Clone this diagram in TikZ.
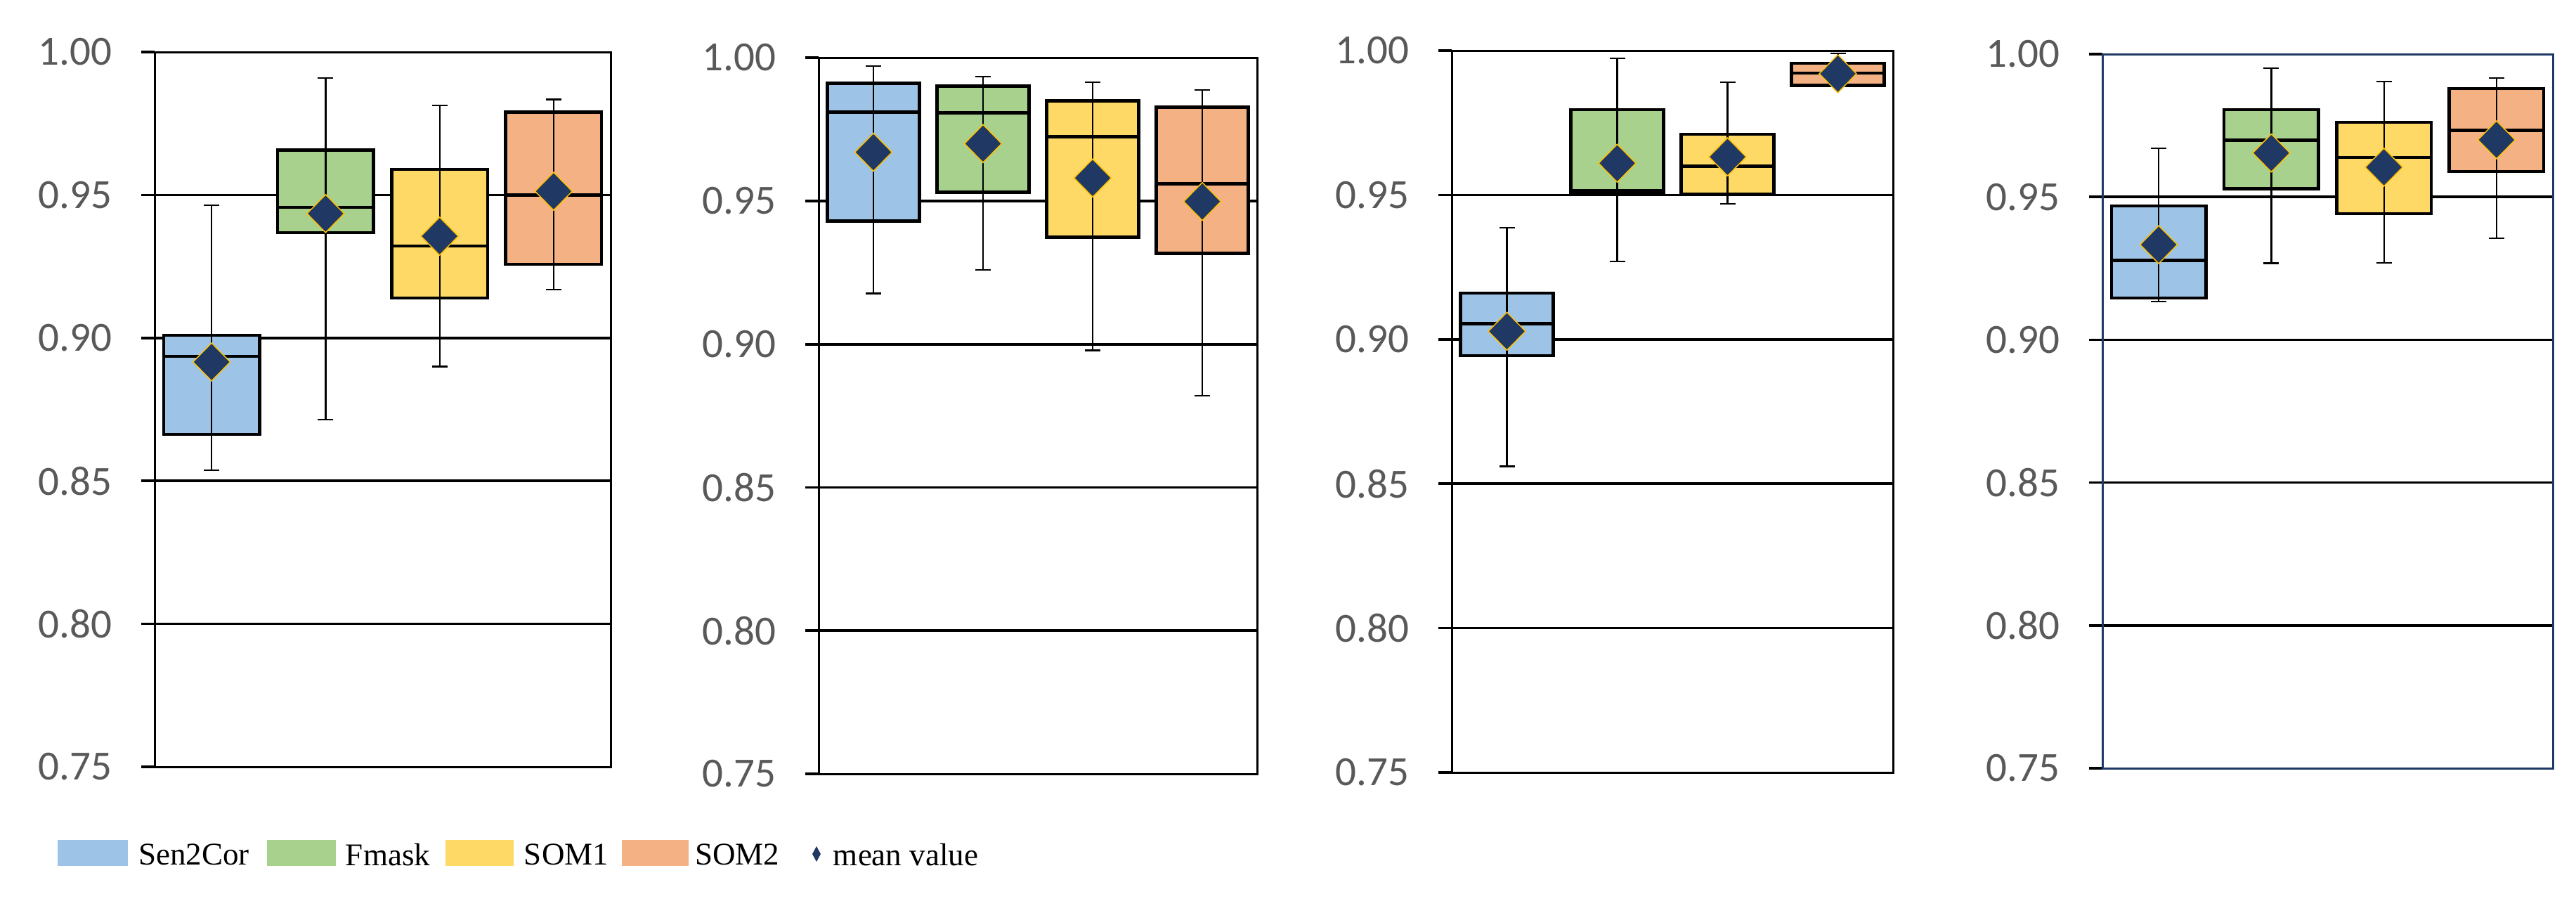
\documentclass[tikz,border=0pt]{standalone}
\usepackage{fontspec}
\setmainfont{Liberation Serif}
\newfontfamily\axfont{Carlito}
\definecolor{cBlue}{HTML}{9DC3E6}
\definecolor{cGreen}{HTML}{A9D18E}
\definecolor{cYellow}{HTML}{FFD966}
\definecolor{cOrange}{HTML}{F4B183}
\definecolor{cNavy}{HTML}{1F3864}
\definecolor{cGold}{HTML}{FFC000}
\definecolor{cLab}{HTML}{595959}
\tikzset{
  whisk/.style={line width=0.45pt, black},
  boxs/.style={line width=0.9pt, black},
  gridl/.style={line width=0.75pt, black},
  frame/.style={line width=0.6pt, black},
  meanmk/.style={fill=cNavy, draw=cGold, line width=0.3pt},
  ylab/.style={anchor=east, font=\axfont\fontsize{11.8}{14}\selectfont, text=cLab, inner sep=0pt},
  leg/.style={anchor=west, font=\fontsize{9}{11}\selectfont, inner sep=0pt}
}
\newcommand\bxp[8]{%
  \pgfmathsetmacro\cx{(#1+0.5)*\W/4}%
  \pgfmathsetmacro\hw{0.42*\W/4}%
  \filldraw[boxs, fill=#8] (\cx-\hw,#5) rectangle (\cx+\hw,#3);
  \draw[whisk] (\cx,#6) -- (\cx,#2);
  \draw[whisk] (\cx-11,#2) -- (\cx+11,#2);
  \draw[whisk] (\cx-11,#6) -- (\cx+11,#6);
  \draw[boxs] (\cx-\hw,#4) -- (\cx+\hw,#4);
  \draw[meanmk] (\cx,#7) +(-5.3pt,0) -- +(0,5.4pt) -- +(5.3pt,0) -- +(0,-5.4pt) -- cycle;
}
\newcommand\axes[1]{%
  \foreach \v/\t in {0.75/0.75,0.80/0.80,0.85/0.85,0.90/0.90,0.95/0.95,1.00/1.00}{
    \draw[gridl] (-19,\v) -- (0,\v);
    \node[ylab] at (-60,\v) {\t};
  }
  \foreach \v in {0.80,0.85,0.90,0.95}{\draw[gridl] (0,\v) -- (\W,\v);}
  \draw[frame,#1] (0,0.75) rectangle (\W,1.00);
}
\begin{document}
\begin{tikzpicture}
\useasboundingbox (0,0) rectangle (733.2pt,-257.6pt);
\fill[white] (0,0) rectangle (733.2pt,-257.6pt);
% panel 1
\begin{scope}[x=0.2pt, y=813.6pt, shift={(44pt,-218.2pt)}, shift={(0,-0.75)}]
  \def\W{649}
  \axes{}
  \bxp{0}{0.9465}{0.9009}{0.8936}{0.8663}{0.8538}{0.8916}{cBlue}
  \bxp{1}{0.9909}{0.9657}{0.9457}{0.9368}{0.8714}{0.9435}{cGreen}
  \bxp{2}{0.9814}{0.9590}{0.9321}{0.9140}{0.8900}{0.9356}{cYellow}
  \bxp{3}{0.9834}{0.9790}{0.9500}{0.9257}{0.9170}{0.9513}{cOrange}
\end{scope}
% panel 2
\begin{scope}[x=0.2pt, y=815.2pt, shift={(233pt,-220.2pt)}, shift={(0,-0.75)}]
  \def\W{624}
  \axes{}
  \bxp{0}{0.9970}{0.9911}{0.9810}{0.9429}{0.9177}{0.9670}{cBlue}
  \bxp{1}{0.9933}{0.9901}{0.9808}{0.9530}{0.9260}{0.9700}{cGreen}
  \bxp{2}{0.9915}{0.9849}{0.9724}{0.9373}{0.8978}{0.9580}{cYellow}
  \bxp{3}{0.9887}{0.9827}{0.9560}{0.9317}{0.8820}{0.9498}{cOrange}
\end{scope}
% panel 3
\begin{scope}[x=0.2pt, y=821.6pt, shift={(413.2pt,-219.8pt)}, shift={(0,-0.75)}]
  \def\W{628}
  \axes{}
  \bxp{0}{0.9386}{0.9160}{0.9054}{0.8944}{0.8560}{0.9028}{cBlue}
  \bxp{1}{0.9973}{0.9796}{0.9515}{0.9506}{0.9270}{0.9610}{cGreen}
  \bxp{2}{0.9890}{0.9710}{0.9600}{0.9504}{0.9470}{0.9632}{cYellow}
  \bxp{3}{0.9990}{0.9956}{0.9922}{0.9880}{0.9880}{0.9920}{cOrange}
\end{scope}
% panel 4
\begin{scope}[x=0.2pt, y=812.8pt, shift={(598.4pt,-218.6pt)}, shift={(0,-0.75)}]
  \def\W{641}
  \axes{draw=cNavy}
  \bxp{0}{0.9670}{0.9468}{0.9278}{0.9146}{0.9134}{0.9333}{cBlue}
  \bxp{1}{0.9951}{0.9806}{0.9699}{0.9529}{0.9268}{0.9654}{cGreen}
  \bxp{2}{0.9905}{0.9761}{0.9638}{0.9442}{0.9270}{0.9604}{cYellow}
  \bxp{3}{0.9917}{0.9880}{0.9733}{0.9589}{0.9355}{0.9700}{cOrange}
\end{scope}
% legend
\begin{scope}[x=0.2pt, y=-0.2pt]
  \fill[cBlue]   (82,1195) rectangle (182,1232);
  \node[leg] (l1) at (196,1216) {Sen2Cor};
  \fill[cGreen]  (380,1195) rectangle (478,1232);
  \node[leg] (l2) at (491,1216) {Fmask};
  \fill[cYellow] (634,1195) rectangle (731,1232);
  \node[leg] (l3) at (745,1216) {SOM1};
  \fill[cOrange] (885,1195) rectangle (980,1232);
  \node[leg] (l4) at (988,1216) {SOM2};
  \fill[cNavy] (1162,1204) -- (1168,1215) -- (1162,1226) -- (1156,1215) -- cycle;
  \node[leg] (l5) at (1185,1216) {mean value};
\end{scope}
\end{tikzpicture}
\end{document}
